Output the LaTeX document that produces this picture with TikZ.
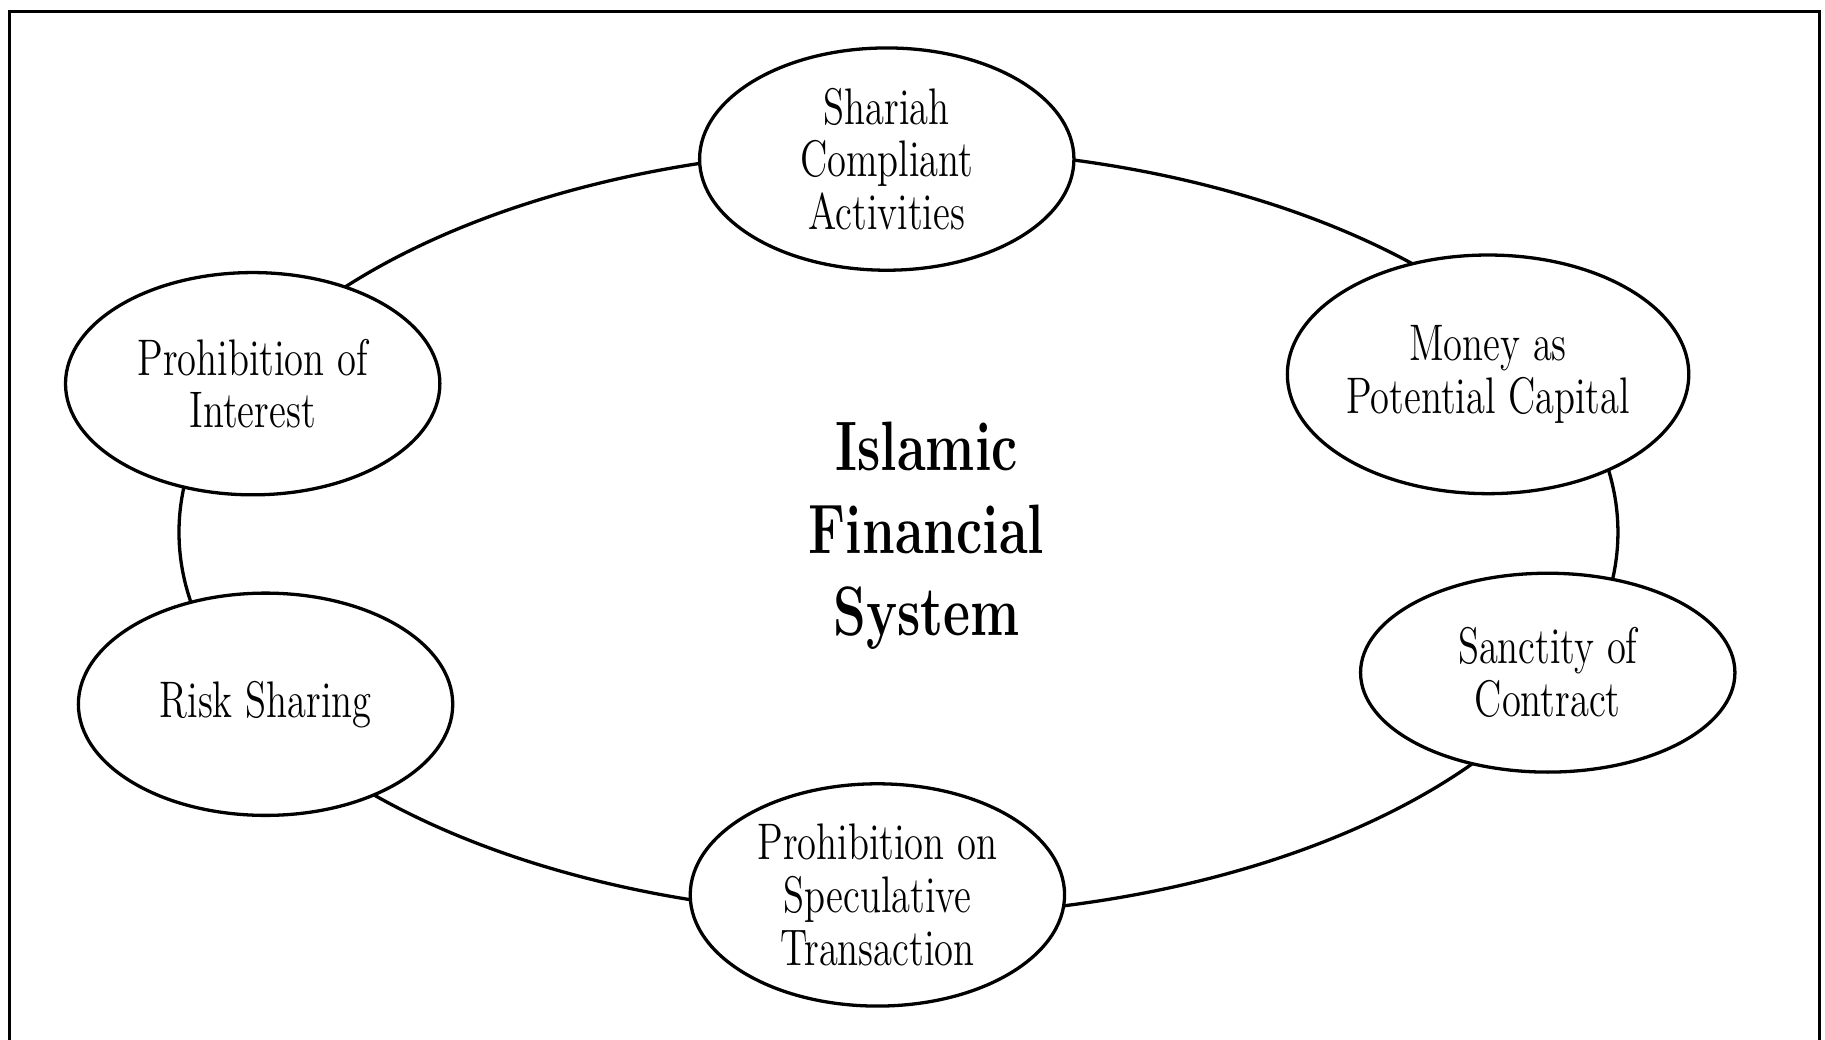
\documentclass[tikz,border=0pt]{standalone}
\usetikzlibrary{shapes.geometric}
\newcommand{\cnd}[1]{\scalebox{0.75}[1]{#1}}
\begin{document}
\begin{tikzpicture}[x=0.01cm,y=-0.01cm,
  bub/.style={draw,thick,fill=white,ellipse,minimum width=320*0.01cm,minimum height=190*0.01cm,inner sep=0pt,align=center,font=\fontsize{12.5}{12.8}\selectfont}]
\useasboundingbox (0,0) rectangle (1560,889);
\draw[thick] (8,889) -- (8,10) -- (1555,10) -- (1555,889);
\draw[thick] (768,455) ellipse [x radius=615, y radius=328];
\node[bub] (sc) at (758,136) {\cnd{Shariah}\\\cnd{Compliant}\\\cnd{Activities}};
\node[bub,minimum height=204*0.01cm] (mc) at (1272,320) {\cnd{Money as}\\\cnd{Potential Capital}};
\node[bub,minimum height=170*0.01cm] (st) at (1323,575) {\cnd{Sanctity of}\\\cnd{Contract}};
\node[bub] (ps) at (750,765) {\cnd{Prohibition on}\\\cnd{Speculative}\\\cnd{Transaction}};
\node[bub] (rs) at (227,602) {\cnd{Risk Sharing}};
\node[bub] (pi) at (216,328) {\cnd{Prohibition of}\\\cnd{Interest}};
\node[align=center,font=\bfseries\fontsize{17}{20}\selectfont] (t) at (792,458) {\cnd{Islamic}\\\cnd{Financial}\\\cnd{System}};
\end{tikzpicture}
\end{document}
